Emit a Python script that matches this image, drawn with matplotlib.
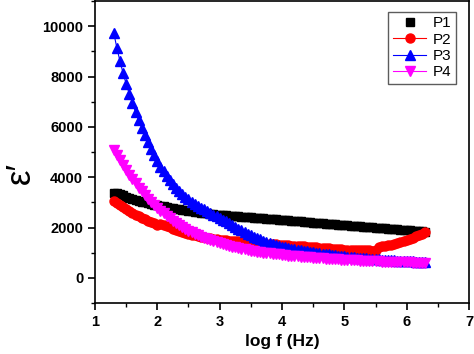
import matplotlib
matplotlib.use('Agg')
import matplotlib.pyplot as plt
from matplotlib.ticker import MultipleLocator

plt.rcParams['font.family'] = ['Liberation Sans', 'DejaVu Sans']

# log f (Hz) sweep
log_f = [1.30, 1.35, 1.40, 1.45, 1.50, 1.55, 1.60, 1.65, 1.70, 1.75,
         1.80, 1.85, 1.90, 1.95, 2.00, 2.05, 2.10, 2.15, 2.20, 2.25,
         2.30, 2.35, 2.40, 2.45, 2.50, 2.55, 2.60, 2.65, 2.70, 2.75,
         2.80, 2.85, 2.90, 2.95, 3.00, 3.05, 3.10, 3.15, 3.20, 3.25,
         3.30, 3.35, 3.40, 3.45, 3.50, 3.55, 3.60, 3.65, 3.70, 3.75,
         3.80, 3.85, 3.90, 3.95, 4.00, 4.05, 4.10, 4.15, 4.20, 4.25,
         4.30, 4.35, 4.40, 4.45, 4.50, 4.55, 4.60, 4.65, 4.70, 4.75,
         4.80, 4.85, 4.90, 4.95, 5.00, 5.05, 5.10, 5.15, 5.20, 5.25,
         5.30, 5.35, 5.40, 5.45, 5.50, 5.55, 5.60, 5.65, 5.70, 5.75,
         5.80, 5.85, 5.90, 5.95, 6.00, 6.05, 6.10, 6.15, 6.20, 6.25,
         6.30]

p1 = [3380, 3370, 3330, 3280, 3230, 3180, 3140, 3100, 3060, 3030,
      3000, 2970, 2940, 2910, 2890, 2860, 2840, 2810, 2790, 2770,
      2750, 2730, 2710, 2690, 2670, 2650, 2630, 2610, 2590, 2575,
      2560, 2545, 2530, 2515, 2500, 2490, 2480, 2470, 2460, 2450,
      2440, 2430, 2420, 2410, 2400, 2390, 2380, 2370, 2360, 2350,
      2340, 2330, 2320, 2310, 2300, 2290, 2280, 2270, 2260, 2250,
      2240, 2230, 2220, 2210, 2200, 2190, 2180, 2170, 2160, 2150,
      2140, 2130, 2120, 2110, 2100, 2090, 2080, 2070, 2060, 2050,
      2040, 2030, 2020, 2010, 2000, 1990, 1980, 1970, 1960, 1950,
      1940, 1930, 1920, 1910, 1900, 1890, 1880, 1870, 1860, 1850,
      1840]

p2 = [3040, 2990, 2910, 2820, 2730, 2650, 2580, 2510, 2450, 2390,
      2330, 2270, 2220, 2170, 2120, 2130, 2100, 2060, 2010, 1960,
      1910, 1870, 1830, 1790, 1750, 1720, 1690, 1660, 1630, 1605,
      1585, 1565, 1545, 1530, 1515, 1500, 1490, 1480, 1470, 1460,
      1450, 1440, 1430, 1420, 1410, 1400, 1390, 1380, 1370, 1360,
      1350, 1340, 1330, 1320, 1310, 1300, 1290, 1280, 1275, 1270,
      1265, 1255, 1245, 1235, 1225, 1210, 1200, 1190, 1180, 1170,
      1160, 1150, 1140, 1130, 1125, 1120, 1115, 1110, 1105, 1100,
      1095, 1090, 1090, 1085, 1090, 1240, 1260, 1280, 1300, 1320,
      1350, 1380, 1420, 1460, 1500, 1550, 1600, 1650, 1700, 1750,
      1810]

p3 = [9750, 9150, 8620, 8140, 7710, 7310, 6940, 6590, 6260, 5960,
      5670, 5400, 5140, 4880, 4640, 4420, 4230, 4050, 3880, 3720,
      3580, 3450, 3330, 3220, 3120, 3030, 2950, 2870, 2790, 2720,
      2650, 2580, 2510, 2440, 2380, 2310, 2240, 2170, 2100, 2030,
      1960, 1890, 1830, 1760, 1700, 1640, 1580, 1530, 1480, 1430,
      1390, 1350, 1310, 1270, 1240, 1210, 1180, 1155, 1130, 1110,
      1090, 1070, 1050, 1030, 1010, 990, 975, 960, 945, 930,
      915, 900, 885, 870, 855, 840, 830, 820, 805, 795,
      785, 775, 765, 755, 745, 735, 725, 718, 710, 702,
      695, 688, 680, 673, 666, 660, 653, 646, 640, 634,
      628]

p4 = [5100, 4880, 4670, 4470, 4280, 4100, 3920, 3750, 3590, 3440,
      3290, 3150, 3020, 2900, 2780, 2670, 2560, 2460, 2360, 2270,
      2180, 2100, 2020, 1950, 1880, 1810, 1750, 1690, 1640, 1590,
      1540, 1490, 1450, 1410, 1370, 1330, 1300, 1270, 1240, 1210,
      1180, 1155, 1130, 1105, 1085, 1065, 1045, 1025, 1005, 990,
      975, 960, 945, 930, 915, 900, 888, 876, 864, 852,
      840, 830, 820, 810, 800, 790, 781, 772, 763, 755,
      747, 739, 731, 724, 717, 710, 703, 697, 691, 685,
      679, 673, 668, 663, 658, 653, 648, 643, 639, 635,
      631, 627, 623, 619, 615, 611, 608, 605, 602, 599,
      596]

fig = plt.figure(figsize=(4.74, 3.54), dpi=100)
ax = fig.add_axes([0.2004, 0.144, 0.7891, 0.853])

ax.plot(log_f, p1, linestyle='none', marker='s', markersize=6, color='black', label='P1')
ax.plot(log_f, p2, linestyle='-', linewidth=0.8, marker='o', markersize=6.5, color='red', label='P2')
ax.plot(log_f, p3, linestyle='-', linewidth=0.8, marker='^', markersize=6.5, color='blue', label='P3')
ax.plot(log_f, p4, linestyle='-', linewidth=0.8, marker='v', markersize=6.5, color='magenta', label='P4')

ax.set_xlim(1, 7)
ax.set_ylim(-1000, 11000)
ax.xaxis.set_major_locator(MultipleLocator(1))
ax.xaxis.set_minor_locator(MultipleLocator(0.5))
ax.yaxis.set_major_locator(MultipleLocator(2000))
ax.yaxis.set_minor_locator(MultipleLocator(1000))
ax.tick_params(which='major', direction='out', length=5, width=1.2, labelsize=10.5)
ax.tick_params(which='minor', direction='out', length=3, width=1)
for lbl in ax.get_xticklabels() + ax.get_yticklabels():
    lbl.set_fontweight('bold')
for sp in ax.spines.values():
    sp.set_linewidth(1.2)

ax.set_xlabel('log f (Hz)', fontsize=12.5, fontweight='bold', labelpad=4)
ax.set_ylabel('ε′', fontsize=25)
ax.yaxis.set_label_coords(-0.155, 0.43)

leg = ax.legend(loc='upper right', fontsize=11, frameon=True, fancybox=False,
                edgecolor='#333333', handlelength=2.2, handletextpad=0.4,
                borderpad=0.3, labelspacing=0.15, bbox_to_anchor=(0.985, 0.99))
leg.get_frame().set_linewidth(1)

fig.savefig('out.png', dpi=100)
